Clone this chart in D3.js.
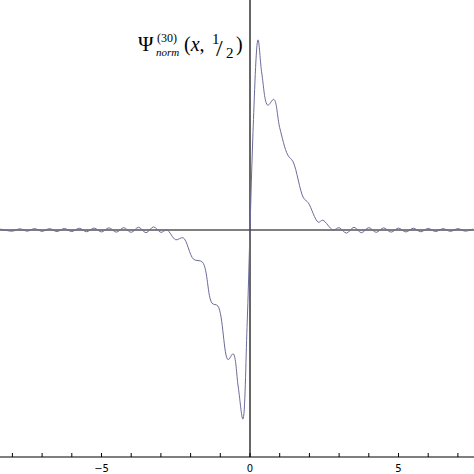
<!DOCTYPE html>
<html><head><meta charset="utf-8">
<script src="https://cdn.jsdelivr.net/npm/d3@7"></script>
<style>body{margin:0;background:#fff}</style>
</head><body>
<svg id="chart" width="474" height="474"></svg>
<script>
// Werte
var xs = [-8.4,-8.0,-7.75,-7.5,-7.25,-7.0,-6.75,-6.5,-6.25,-6.0,-5.75,-5.5,-5.25,-5.0,-4.75,-4.5,-4.25,-4.0,-3.75,-3.5,-3.25,-3.0,-2.8,-2.5,-2.25,-1.9,-1.6,-1.28,-1.08,-0.74,-0.57,-0.4,-0.24,-0.1,0,
  0.1,0.27,0.4,0.6,0.8,1.0,1.27,1.45,1.8,1.96,2.3,2.45,2.8,3.0,3.25,3.5,3.75,4.0,4.25,4.5,4.75,5.0,5.25,5.5,5.75,6.0,6.25,6.5,6.75,7.0,7.25,7.5];
var ys = [0.005,-0.006,0.006,-0.006,0.007,-0.007,0.007,-0.008,0.008,-0.008,0.009,-0.009,0.01,-0.01,0.011,-0.011,0.012,-0.012,0.014,-0.014,0.016,-0.012,0,-0.05,-0.04,-0.15,-0.165,-0.375,-0.39,-0.665,-0.635,-0.8,-0.97,-0.5,0,
  0.5,0.975,0.8,0.64,0.67,0.525,0.385,0.35,0.165,0.14,0.04,0.05,0,0.012,-0.016,0.014,-0.014,0.012,-0.012,0.011,-0.011,0.01,-0.01,0.009,-0.009,0.008,-0.008,0.007,-0.007,0.007,-0.006,0.005];
var ticks = [-8,-7,-6,-5,-4,-3,-2,-1,0,1,2,3,4,5,6,7];
var tickLabels = [-5,0,5];

var svg = d3.select("#chart");
var x = d3.scaleLinear().domain([0,1]).range([250,279.7]);
var y = d3.scaleLinear().domain([0,1]).range([230,35]);

// Achsen
svg.append("line").attr("x1",0).attr("x2",474).attr("y1",y(0)).attr("y2",y(0)).attr("stroke","#000").attr("stroke-width",1.2);
svg.append("line").attr("x1",x(0)).attr("x2",x(0)).attr("y1",0).attr("y2",457).attr("stroke","#000").attr("stroke-width",1.2);
svg.append("line").attr("x1",0).attr("x2",474).attr("y1",457).attr("y2",457).attr("stroke","#000").attr("stroke-width",1.2);

svg.selectAll(".tick").data(ticks).enter().append("line")
  .attr("x1",function(d){return x(d);}).attr("x2",function(d){return x(d);})
  .attr("y1",453).attr("y2",457).attr("stroke","#000");

svg.selectAll(".lbl").data(tickLabels).enter().append("text")
  .attr("x",function(d){return x(d);}).attr("y",472)
  .attr("text-anchor","middle").attr("font-family","DejaVu Sans").attr("font-size",10)
  .text(function(d){return d < 0 ? "\u2212" + Math.abs(d) : d;});

// Kurve
var pts = xs.map(function(v,i){return [v, ys[i]];});
svg.append("path").datum(pts)
  .attr("fill","none").attr("stroke","#6b6b99").attr("stroke-width",1)
  .attr("d", d3.line().x(function(d){return x(d[0]);}).y(function(d){return y(d[1]);}).curve(d3.curveCatmullRom));

// Beschriftung
var f = "Liberation Serif";
var lab = svg.append("g").attr("font-family",f);
lab.append("text").attr("x",138).attr("y",51).attr("font-size",21).text("\u03A8");
lab.append("text").attr("x",157).attr("y",42).attr("font-size",12).text("(30)");
lab.append("text").attr("x",156).attr("y",56).attr("font-size",11).attr("font-style","italic").text("norm");
var t = lab.append("text").attr("x",184).attr("y",51).attr("font-size",20);
t.append("tspan").text("(");
t.append("tspan").attr("font-style","italic").text("x");
t.append("tspan").text(", ");
lab.append("text").attr("x",212).attr("y",44).attr("font-size",15).text("1");
lab.append("text").attr("x",216).attr("y",56).attr("font-size",24).text("/");
lab.append("text").attr("x",226).attr("y",58).attr("font-size",15).text("2");
lab.append("text").attr("x",236).attr("y",51).attr("font-size",20).text(")");
</script>
</body></html>
